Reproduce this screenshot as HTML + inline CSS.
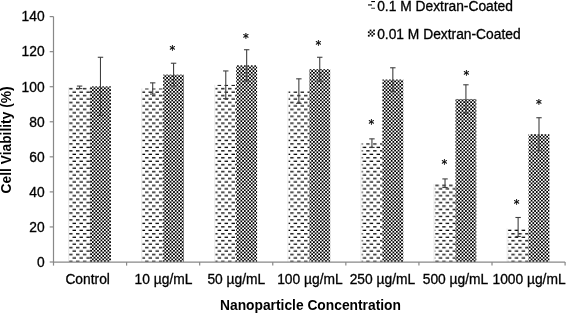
<!DOCTYPE html><html><head><meta charset="utf-8"><style>html,body{margin:0;padding:0;background:#fff}svg{display:block}text{font-family:"Liberation Sans",Arial,sans-serif;font-size:13.8px;fill:#000}.r{stroke:#000;stroke-width:0.3px}.st{font-family:"DejaVu Sans",sans-serif;font-size:11.5px;stroke:#000;stroke-width:0.25px}</style></head><body>
<svg width="567" height="315" viewBox="0 0 567 315">
<defs>
<pattern id="dash" patternUnits="userSpaceOnUse" x="0" y="0" width="6.91" height="6.91"><rect x="0" y="5.100" width="3.455" height="1.3" fill="#000"/><rect x="3.455" y="1.650" width="3.455" height="1.3" fill="#000"/></pattern>
<pattern id="chk" patternUnits="userSpaceOnUse" x="0.37" y="1.12" width="3.455" height="3.455"><rect x="0" y="0" width="1.728" height="1.728" fill="#000"/><rect x="1.728" y="1.728" width="1.728" height="1.728" fill="#000"/></pattern>
</defs>
<g>
<rect width="567" height="315" fill="#fff"/>
<rect x="69.16" y="87.33" width="20.88" height="174.67" fill="url(#dash)"/>
<rect x="90.04" y="86.36" width="20.88" height="175.64" fill="url(#chk)"/>
<line x1="68.56" y1="87.33" x2="68.56" y2="262.00" stroke="#ececec" stroke-width="1"/>
<rect x="142.25" y="88.47" width="20.88" height="173.53" fill="url(#dash)"/>
<rect x="163.13" y="74.62" width="20.88" height="187.38" fill="url(#chk)"/>
<line x1="141.65" y1="88.47" x2="141.65" y2="262.00" stroke="#ececec" stroke-width="1"/>
<rect x="215.33" y="84.79" width="20.88" height="177.21" fill="url(#dash)"/>
<rect x="236.21" y="65.33" width="20.88" height="196.67" fill="url(#chk)"/>
<line x1="214.73" y1="84.79" x2="214.73" y2="262.00" stroke="#ececec" stroke-width="1"/>
<rect x="288.42" y="91.10" width="20.88" height="170.90" fill="url(#dash)"/>
<rect x="309.30" y="69.19" width="20.88" height="192.81" fill="url(#chk)"/>
<line x1="287.82" y1="91.10" x2="287.82" y2="262.00" stroke="#ececec" stroke-width="1"/>
<rect x="361.50" y="143.16" width="20.88" height="118.84" fill="url(#dash)"/>
<rect x="382.39" y="79.53" width="20.88" height="182.47" fill="url(#chk)"/>
<line x1="360.90" y1="143.16" x2="360.90" y2="262.00" stroke="#ececec" stroke-width="1"/>
<rect x="434.59" y="183.82" width="20.88" height="78.18" fill="url(#dash)"/>
<rect x="455.47" y="98.98" width="20.88" height="163.02" fill="url(#chk)"/>
<line x1="433.99" y1="183.82" x2="433.99" y2="262.00" stroke="#ececec" stroke-width="1"/>
<rect x="507.68" y="228.35" width="20.88" height="33.65" fill="url(#dash)"/>
<rect x="528.56" y="134.22" width="20.88" height="127.78" fill="url(#chk)"/>
<line x1="507.08" y1="228.35" x2="507.08" y2="262.00" stroke="#ececec" stroke-width="1"/>
<g stroke="#888" stroke-width="1.2" fill="none">
<line x1="53.5" y1="16.6" x2="53.5" y2="262.0"/>
<line x1="53.5" y1="262.15" x2="565.1" y2="262.15"/>
<line x1="49.7" y1="262.00" x2="53.5" y2="262.00"/>
<line x1="49.7" y1="226.94" x2="53.5" y2="226.94"/>
<line x1="49.7" y1="191.89" x2="53.5" y2="191.89"/>
<line x1="49.7" y1="156.83" x2="53.5" y2="156.83"/>
<line x1="49.7" y1="121.77" x2="53.5" y2="121.77"/>
<line x1="49.7" y1="86.71" x2="53.5" y2="86.71"/>
<line x1="49.7" y1="51.66" x2="53.5" y2="51.66"/>
<line x1="49.7" y1="16.60" x2="53.5" y2="16.60"/>
<line x1="53.50" y1="262.0" x2="53.50" y2="265.6"/>
<line x1="126.59" y1="262.0" x2="126.59" y2="265.6"/>
<line x1="199.67" y1="262.0" x2="199.67" y2="265.6"/>
<line x1="272.76" y1="262.0" x2="272.76" y2="265.6"/>
<line x1="345.84" y1="262.0" x2="345.84" y2="265.6"/>
<line x1="418.93" y1="262.0" x2="418.93" y2="265.6"/>
<line x1="492.01" y1="262.0" x2="492.01" y2="265.6"/>
<line x1="565.10" y1="262.0" x2="565.10" y2="265.6"/>
</g>
<g stroke="#404040" stroke-width="1.1" fill="none">
<line x1="79.60" y1="86.07" x2="79.60" y2="88.59"/>
<line x1="76.90" y1="86.07" x2="82.30" y2="86.07"/>
<line x1="76.90" y1="88.59" x2="82.30" y2="88.59"/>
<line x1="100.48" y1="57.27" x2="100.48" y2="115.46"/>
<line x1="97.78" y1="57.27" x2="103.18" y2="57.27"/>
<line x1="97.78" y1="115.46" x2="103.18" y2="115.46"/>
<line x1="152.69" y1="82.86" x2="152.69" y2="94.08"/>
<line x1="149.99" y1="82.86" x2="155.39" y2="82.86"/>
<line x1="149.99" y1="94.08" x2="155.39" y2="94.08"/>
<line x1="173.57" y1="63.23" x2="173.57" y2="86.01"/>
<line x1="170.87" y1="63.23" x2="176.27" y2="63.23"/>
<line x1="170.87" y1="86.01" x2="176.27" y2="86.01"/>
<line x1="225.77" y1="70.94" x2="225.77" y2="98.63"/>
<line x1="223.07" y1="70.94" x2="228.47" y2="70.94"/>
<line x1="223.07" y1="98.63" x2="228.47" y2="98.63"/>
<line x1="246.66" y1="49.73" x2="246.66" y2="80.93"/>
<line x1="243.96" y1="49.73" x2="249.36" y2="49.73"/>
<line x1="243.96" y1="80.93" x2="249.36" y2="80.93"/>
<line x1="298.86" y1="78.83" x2="298.86" y2="103.37"/>
<line x1="296.16" y1="78.83" x2="301.56" y2="78.83"/>
<line x1="296.16" y1="103.37" x2="301.56" y2="103.37"/>
<line x1="319.74" y1="57.27" x2="319.74" y2="81.11"/>
<line x1="317.04" y1="57.27" x2="322.44" y2="57.27"/>
<line x1="317.04" y1="81.11" x2="322.44" y2="81.11"/>
<line x1="371.94" y1="138.86" x2="371.94" y2="147.45"/>
<line x1="369.24" y1="138.86" x2="374.64" y2="138.86"/>
<line x1="369.24" y1="147.45" x2="374.64" y2="147.45"/>
<line x1="392.83" y1="67.78" x2="392.83" y2="91.27"/>
<line x1="390.13" y1="67.78" x2="395.53" y2="67.78"/>
<line x1="390.13" y1="91.27" x2="395.53" y2="91.27"/>
<line x1="445.03" y1="178.91" x2="445.03" y2="187.50"/>
<line x1="442.33" y1="178.91" x2="447.73" y2="178.91"/>
<line x1="442.33" y1="187.50" x2="447.73" y2="187.50"/>
<line x1="465.91" y1="84.79" x2="465.91" y2="113.18"/>
<line x1="463.21" y1="84.79" x2="468.61" y2="84.79"/>
<line x1="463.21" y1="113.18" x2="468.61" y2="113.18"/>
<line x1="518.12" y1="217.49" x2="518.12" y2="236.50"/>
<line x1="515.42" y1="217.49" x2="520.82" y2="217.49"/>
<line x1="515.42" y1="236.50" x2="520.82" y2="236.50"/>
<line x1="539.00" y1="117.74" x2="539.00" y2="150.69"/>
<line x1="536.30" y1="117.74" x2="541.70" y2="117.74"/>
<line x1="536.30" y1="150.69" x2="541.70" y2="150.69"/>
</g>
<text class="r" x="44.6" y="266.80" text-anchor="end">0</text>
<text class="r" x="44.6" y="231.74" text-anchor="end">20</text>
<text class="r" x="44.6" y="196.69" text-anchor="end">40</text>
<text class="r" x="44.6" y="161.63" text-anchor="end">60</text>
<text class="r" x="44.6" y="126.57" text-anchor="end">80</text>
<text class="r" x="44.6" y="91.51" text-anchor="end">100</text>
<text class="r" x="44.6" y="56.46" text-anchor="end">120</text>
<text class="r" x="44.6" y="21.40" text-anchor="end">140</text>
<text class="r" x="87.65" y="284.0" text-anchor="middle">Control</text>
<text class="r" x="163.50" y="284.0" text-anchor="middle">10 µg/mL</text>
<text class="r" x="236.35" y="284.0" text-anchor="middle">50 µg/mL</text>
<text class="r" x="309.90" y="284.0" text-anchor="middle">100 µg/mL</text>
<text class="r" x="382.40" y="284.0" text-anchor="middle">250 µg/mL</text>
<text class="r" x="455.50" y="284.0" text-anchor="middle">500 µg/mL</text>
<text class="r" x="529.05" y="284.0" text-anchor="middle">1000 µg/mL</text>
<text class="st" x="172.40" y="53.50" text-anchor="middle">*</text>
<text class="st" x="245.90" y="42.10" text-anchor="middle">*</text>
<text class="st" x="318.40" y="49.00" text-anchor="middle">*</text>
<text class="st" x="371.30" y="127.60" text-anchor="middle">*</text>
<text class="st" x="466.40" y="79.30" text-anchor="middle">*</text>
<text class="st" x="444.40" y="168.30" text-anchor="middle">*</text>
<text class="st" x="538.90" y="108.30" text-anchor="middle">*</text>
<text class="st" x="516.70" y="208.00" text-anchor="middle">*</text>
<text x="220.0" y="309.5" font-weight="bold">Nanoparticle Concentration</text>
<text transform="translate(11.0,193.4) rotate(-90)" font-weight="bold">Cell Viability (%)</text>
<g fill="#000">
<rect x="371.2" y="1.0" width="3.8" height="1.1"/>
<rect x="368.0" y="4.4" width="4.0" height="1.1"/>
<rect x="371.2" y="7.7" width="3.8" height="1.1" fill="#444"/>
<rect x="369.65" y="29.60" width="1.75" height="1.75"/>
<rect x="373.15" y="29.60" width="1.75" height="1.75"/>
<rect x="367.90" y="31.35" width="1.75" height="1.75"/>
<rect x="371.40" y="31.35" width="1.75" height="1.75"/>
<rect x="369.65" y="33.10" width="1.75" height="1.75"/>
<rect x="373.15" y="33.10" width="1.75" height="1.75"/>
<rect x="367.90" y="34.85" width="1.75" height="1.75"/>
<rect x="371.40" y="34.85" width="1.75" height="1.75"/>
</g>
<text class="r" x="377.2" y="11.4">0.1 M Dextran-Coated</text>
<text class="r" x="377.2" y="39.1">0.01 M Dextran-Coated</text>
</g>
</svg></body></html>
